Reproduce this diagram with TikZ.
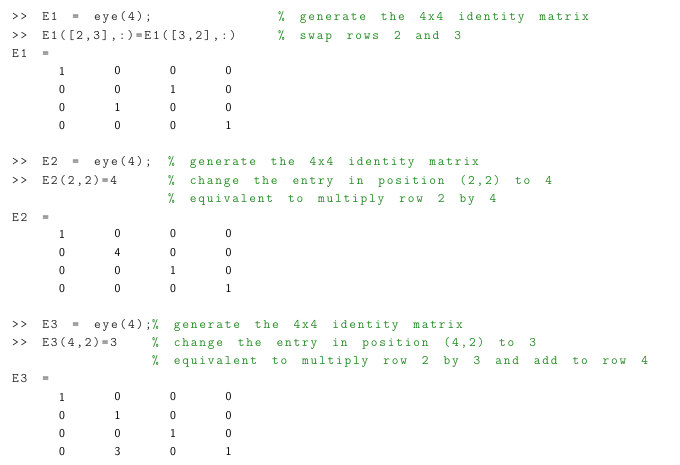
\documentclass[tikz,border=0pt]{standalone}
\usepackage{fontspec}
\definecolor{cgreen}{RGB}{34,139,34}
\newfontfamily\codefont[LetterSpace=14,WordSpace={1.75,0,0}]{Latin Modern Mono}
\tikzset{
  code/.style={anchor=west,inner sep=0pt,font=\codefont\fontsize{13}{15}\selectfont,text=black!85},
  cmt/.style={code,text=cgreen},
  num/.style={anchor=center,inner sep=0pt,font=\sffamily\fontsize{12}{14}\selectfont}
}
\begin{document}
\begin{tikzpicture}[x=1pt,y=-1pt]
\useasboundingbox[fill=white] (0,0) rectangle (680,465);
% block 1
\node[code] (a1) at (12,17) {>> E1 = eye(4);};
\node[cmt] (c1) at (278,17) {\% generate the 4x4 identity matrix};
\node[code] (a2) at (12,36) {>> E1([2,3],:)=E1([3,2],:)};
\node[cmt] (c2) at (278,36) {\% swap rows 2 and 3};
\node[code] (a3) at (12,53) {E1 =};
\foreach \r [count=\i] in {{1,0,0,0},{0,0,1,0},{0,1,0,0},{0,0,0,1}}{
  \foreach \v [count=\j] in \r {
    \node[num] (m1-\i-\j) at ({62+55.5*(\j-1)},{71+18.3*(\i-1)}) {\v};
  }
}
% block 2
\node[code] (b1) at (12,162) {>> E2 = eye(4);};
\node[cmt] (d1) at (168,162) {\% generate the 4x4 identity matrix};
\node[code] (b2) at (12,181) {>> E2(2,2)=4};
\node[cmt] (d2) at (168,181) {\% change the entry in position (2,2) to 4};
\node[cmt] (d3) at (168,199) {\% equivalent to multiply row 2 by 4};
\node[code] (b3) at (12,217) {E2 =};
\foreach \r [count=\i] in {{1,0,0,0},{0,4,0,0},{0,0,1,0},{0,0,0,1}}{
  \foreach \v [count=\j] in \r {
    \node[num] (m2-\i-\j) at ({62+55.5*(\j-1)},{234+18.3*(\i-1)}) {\v};
  }
}
% block 3
\node[code] (e1) at (12,325) {>> E3 = eye(4);};
\node[cmt] (f1) at (152,325) {\% generate the 4x4 identity matrix};
\node[code] (e2) at (12,343) {>> E3(4,2)=3};
\node[cmt] (f2) at (152,343) {\% change the entry in position (4,2) to 3};
\node[cmt] (f3) at (152,361) {\% equivalent to multiply row 2 by 3 and add to row 4};
\node[code] (e3) at (12,379) {E3 =};
\foreach \r [count=\i] in {{1,0,0,0},{0,1,0,0},{0,0,1,0},{0,3,0,1}}{
  \foreach \v [count=\j] in \r {
    \node[num] (m3-\i-\j) at ({62+55.5*(\j-1)},{397+18.3*(\i-1)}) {\v};
  }
}
\end{tikzpicture}
\end{document}
